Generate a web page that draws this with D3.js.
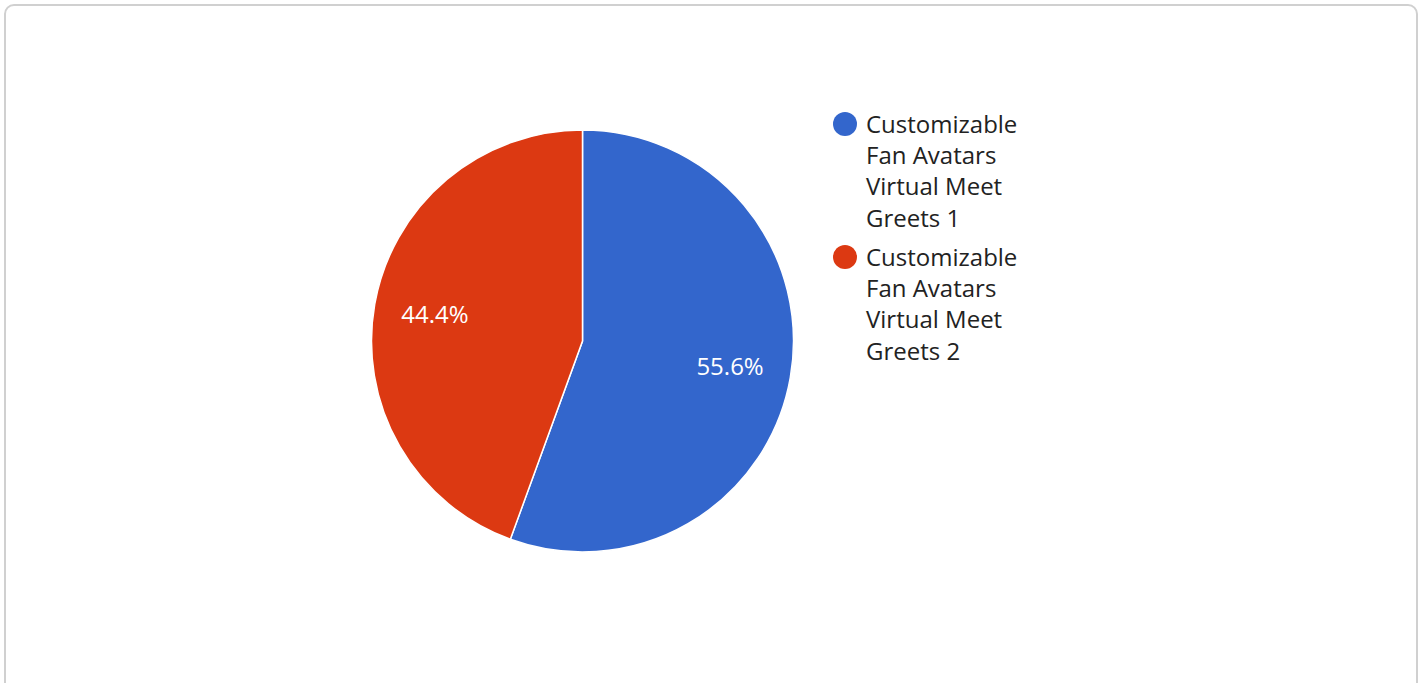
<!DOCTYPE html>
<html>
<head>
<meta charset="utf-8">
<script src="https://cdnjs.cloudflare.com/ajax/libs/d3/7.8.5/d3.min.js"></script>
<style>
  html, body { margin: 0; padding: 0; background: #fff; }
  #chart { position: absolute; left: 4px; top: 4px; width: 1414px; height: 700px;
           border: 2px solid #d0d0d0; border-radius: 10px; box-sizing: border-box; overflow: hidden; }
</style>
</head>
<body>
<div id="chart"></div>
<script>
const categories = ["Customizable Fan Avatars Virtual Meet Greets 1", "Customizable Fan Avatars Virtual Meet Greets 2"]
const values = [5, 4]
const colours = ["#3366cc", "#dc3912"]
const legendLines = [
    ["Customizable", "Fan Avatars", "Virtual Meet", "Greets 1"],
    ["Customizable", "Fan Avatars", "Virtual Meet", "Greets 2"]
]

const width = 1423, height = 683
const font = "'Open Sans', 'Noto Sans', sans-serif"

const svg = d3.select("body")
    .append("svg")
    .attr("width", width)
    .attr("height", height)
    .style("position", "absolute")
    .style("left", 0)
    .style("top", 0)

const cx = 582.5, cy = 341, r = 211
const total = d3.sum(values)

const pie = d3.pie().sort(null).value(d => d)
const arcs = pie(values)
const arc = d3.arc().innerRadius(0).outerRadius(r)
const labelArc = d3.arc().innerRadius(r * 0.71).outerRadius(r * 0.71)

let g = svg.append("g").attr("transform", "translate(" + cx + "," + cy + ")")

g.selectAll("path")
    .data(arcs)
    .join("path")
    .attr("d", arc)
    .attr("fill", (d, i) => colours[i])
    .attr("stroke", "#fff")
    .attr("stroke-width", 1.5)

g.selectAll("text.pct")
    .data(arcs)
    .join("text")
    .attr("class", "pct")
    .attr("transform", d => "translate(" + labelArc.centroid(d) + ")")
    .attr("text-anchor", "middle")
    .attr("dy", "0.35em")
    .attr("fill", "#fff")
    .style("font-family", font)
    .style("font-size", "24px")
    .text(d => (d.data / total * 100).toFixed(1) + "%")

// legend
const legend = svg.append("g").attr("transform", "translate(845,124)")
const item = legend.selectAll("g")
    .data(categories)
    .join("g")
    .attr("transform", (d, i) => "translate(0," + (i * 133) + ")")

item.append("circle")
    .attr("r", 12)
    .attr("fill", (d, i) => colours[i])

item.append("text")
    .attr("x", 21)
    .attr("y", 0)
    .style("font-family", font)
    .style("font-size", "24px")
    .attr("fill", "#222")
    .selectAll("tspan")
    .data((d, i) => legendLines[i])
    .join("tspan")
    .attr("x", 21)
    .attr("y", (d, j) => j * 31.3)
    .attr("dy", "0.36em")
    .text(d => d)
</script>
</body>
</html>
